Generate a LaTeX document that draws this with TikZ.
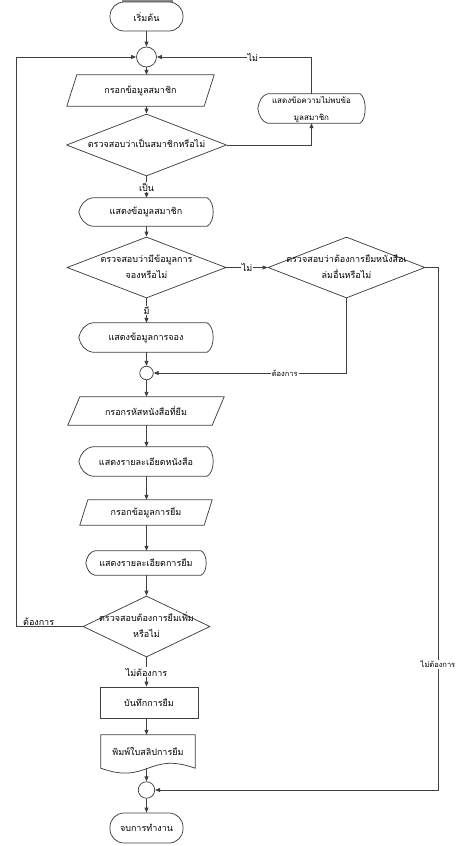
\documentclass[tikz,border=0pt]{standalone}
\usepackage{fontspec}
\newfontfamily\thaifont[Script=Thai]{Loma}
\usetikzlibrary{arrows.meta,shapes.geometric,calc}
\newcommand\mainsize{\fontsize{9bp}{16bp}\selectfont}
\newcommand\smallsize{\fontsize{7.5bp}{12bp}\selectfont}
\newcommand\zt[1]{\makebox[0pt]{\smash{\raisebox{-2bp}{\begin{tabular}{@{}c@{}}#1\end{tabular}}}}}
\newcommand\ioshape[2]{%
  \draw[ln] ($(#1.north west)+(#2,0)$) -- (#1.north east) -- ($(#1.south east)-(#2,0)$) -- (#1.south west) -- cycle;}
\newcommand\dispshape[3]{%
  \draw[ln] ($(#1.north west)+(#2,0)$) -- ($(#1.north east)-(#3,0)$)
    .. controls ($(#1.north east)!0.15!(#1.south east)+(0.33*#3,0)$) and ($(#1.north east)!0.85!(#1.south east)+(0.33*#3,0)$) .. ($(#1.south east)-(#3,0)$)
    -- ($(#1.south west)+(#2,0)$)
    .. controls ($(#1.south west)+(0.45*#2,-1)$) and ($(#1.west)!0.5!(#1.south west)+(0.1*#2,0)$) .. (#1.west)
    .. controls ($(#1.west)!0.5!(#1.north west)+(0.1*#2,0)$) and ($(#1.north west)+(0.45*#2,1)$) .. ($(#1.north west)+(#2,0)$) -- cycle;}
\newcommand\docshape[1]{%
  \draw[ln] (#1.south west) -- (#1.north west) -- (#1.north east) -- (#1.south east)
    .. controls ($(#1.south)+(0,-17)$) and ($(#1.south)+(0,17)$) .. (#1.south west) -- cycle;}
\begin{document}
\begin{tikzpicture}[x=1bp,y=-1bp,
  font=\thaifont\mainsize,
  ln/.style={draw=black!75,line width=0.75bp},
  arr/.style={ln,-{Triangle[length=5bp,width=4bp]}},
  blk/.style={rectangle,inner sep=0pt,align=center},
  term/.style={blk,ln,rounded corners=14bp},
  proc/.style={blk,ln},
  dia/.style={diamond,ln,inner sep=0pt},
  conn/.style={circle,ln,inner sep=0pt},
  lab/.style={inner sep=1bp,fill=white},
  slab/.style={lab,font=\thaifont\smallsize}]

\useasboundingbox (0,0) rectangle (474,846);
\fill[black!45] (122,0) rectangle (173,2);

\node[term,minimum width=73bp,minimum height=29bp] (start) at (146.5,16.5) {เริ่มต้น};
\node[conn,minimum size=20bp] (c1) at (146.5,57) {};
\node[blk,minimum width=147bp,minimum height=31bp] (io1) at (140.5,90.5) {กรอกข้อมูลสมาชิก};
\node[dia,minimum width=160bp,minimum height=62bp] (d1) at (146.5,145) {\zt{ตรวจสอบว่าเป็นสมาชิกหรือไม่}};
\node[blk,minimum width=107bp,minimum height=29bp,font=\thaifont\fontsize{8bp}{17bp}\selectfont] (msg) at (311.5,108.5) {\zt{แสดงข้อความไม่พบข้อ\\มูลสมาชิก}};
\node[blk,minimum width=134bp,minimum height=28bp] (s1) at (146,212) {แสดงข้อมูลสมาชิก};
\node[dia,minimum width=159bp,minimum height=61bp] (d2) at (146.5,267.5) {\zt{ตรวจสอบว่ามีข้อมูลการ\\จองหรือไม่}};
\node[dia,minimum width=157bp,minimum height=61bp] (d3) at (346.5,267.5) {\zt{ตรวจสอบว่าต้องการยืมหนังสือเ\\ล่มอื่นหรือไม่}};
\node[blk,minimum width=134bp,minimum height=29bp] (s2) at (146,337.5) {แสดงข้อมูลการจอง};
\node[conn,minimum size=13.5bp] (c2) at (146.5,373) {};
\node[blk,minimum width=156bp,minimum height=28bp] (io2) at (146,411) {กรอกรหัสหนังสือที่ยืม};
\node[blk,minimum width=134bp,minimum height=29bp] (s3) at (146,461.5) {แสดงรายละเอียดหนังสือ};
\node[blk,minimum width=132bp,minimum height=25bp] (io3) at (146,512.5) {กรอกข้อมูลการยืม};
\node[blk,minimum width=120bp,minimum height=24bp] (s4) at (146,563) {แสดงรายละเอียดการยืม};
\node[dia,minimum width=127bp,minimum height=61bp] (d4) at (146.5,626.5) {\zt{ตรวจสอบต้องการยืมเพิ่ม\\หรือไม่}};
\node[proc,minimum width=98bp,minimum height=31bp] (p1) at (149,702.5) {บันทึกการยืม};
\node[blk,minimum width=94bp,minimum height=33bp] (doc) at (148,751.5) {พิมพ์ใบสลิปการยืม};
\node[conn,minimum size=16.5bp] (c3) at (146.5,790) {};
\node[term,minimum width=73bp,minimum height=30bp] (end) at (146.5,828) {จบการทำงาน};

\ioshape{io1}{10}
\ioshape{io2}{12}
\ioshape{io3}{8}
\dispshape{msg}{10}{5}
\dispshape{s1}{14}{6}
\dispshape{s2}{14}{6}
\dispshape{s3}{14}{6}
\dispshape{s4}{9}{5}
\docshape{doc}

\coordinate (X) at (146.5,0);
\draw[arr] (start.south) -- (c1.north);
\draw[arr] (c1.south) -- (c1.south |- io1.north);
\draw[arr] (d1.north |- io1.south) -- (d1.north);
\draw[arr] (d1.south) -- node[lab]{เป็น} (d1.south |- s1.north);
\draw[arr] (d2.north |- s1.south) -- (d2.north);
\draw[arr] (d2.south) -- node[lab]{มี} (d2.south |- s2.north);
\draw[arr] (c2.north |- s2.south) -- (c2.north);
\draw[arr] (c2.south) -- (c2.south |- io2.north);
\draw[arr] (X |- io2.south) -- (X |- s3.north);
\draw[arr] (X |- s3.south) -- (X |- io3.north);
\draw[arr] (X |- io3.south) -- (X |- s4.north);
\draw[arr] (X |- s4.south) -- (d4.north);
\draw[arr] (d4.south) -- node[lab]{ไม่ต้องการ} (X |- p1.north);
\draw[arr] (X |- p1.south) -- (X |- doc.north);
\draw[arr] (X |- doc.south) -- (c3.north);
\draw[arr] (c3.south) -- (end.north);

\draw[arr] (d1.east) -| (msg.south);
\draw[arr] (msg.north) |- node[lab,pos=0.69]{ไม่} (c1.east);
\coordinate (L) at (16,626.5);
\draw[arr] (d4.west) -- node[lab,fill=none,above,pos=0.66,inner sep=0.5bp]{ต้องการ} (L) |- (c1.west);
\draw[arr] (d2.east) -- node[lab]{ไม่} (d3.west);
\draw[arr] (d3.south) |- node[slab,pos=0.66]{ต้องการ} (c2.east);
\coordinate (R) at (438,790);
\draw[arr] (d3.east) -| node[slab,pos=0.88]{ไม่ต้องการ} (R) -- (c3.east);
\end{tikzpicture}
\end{document}
